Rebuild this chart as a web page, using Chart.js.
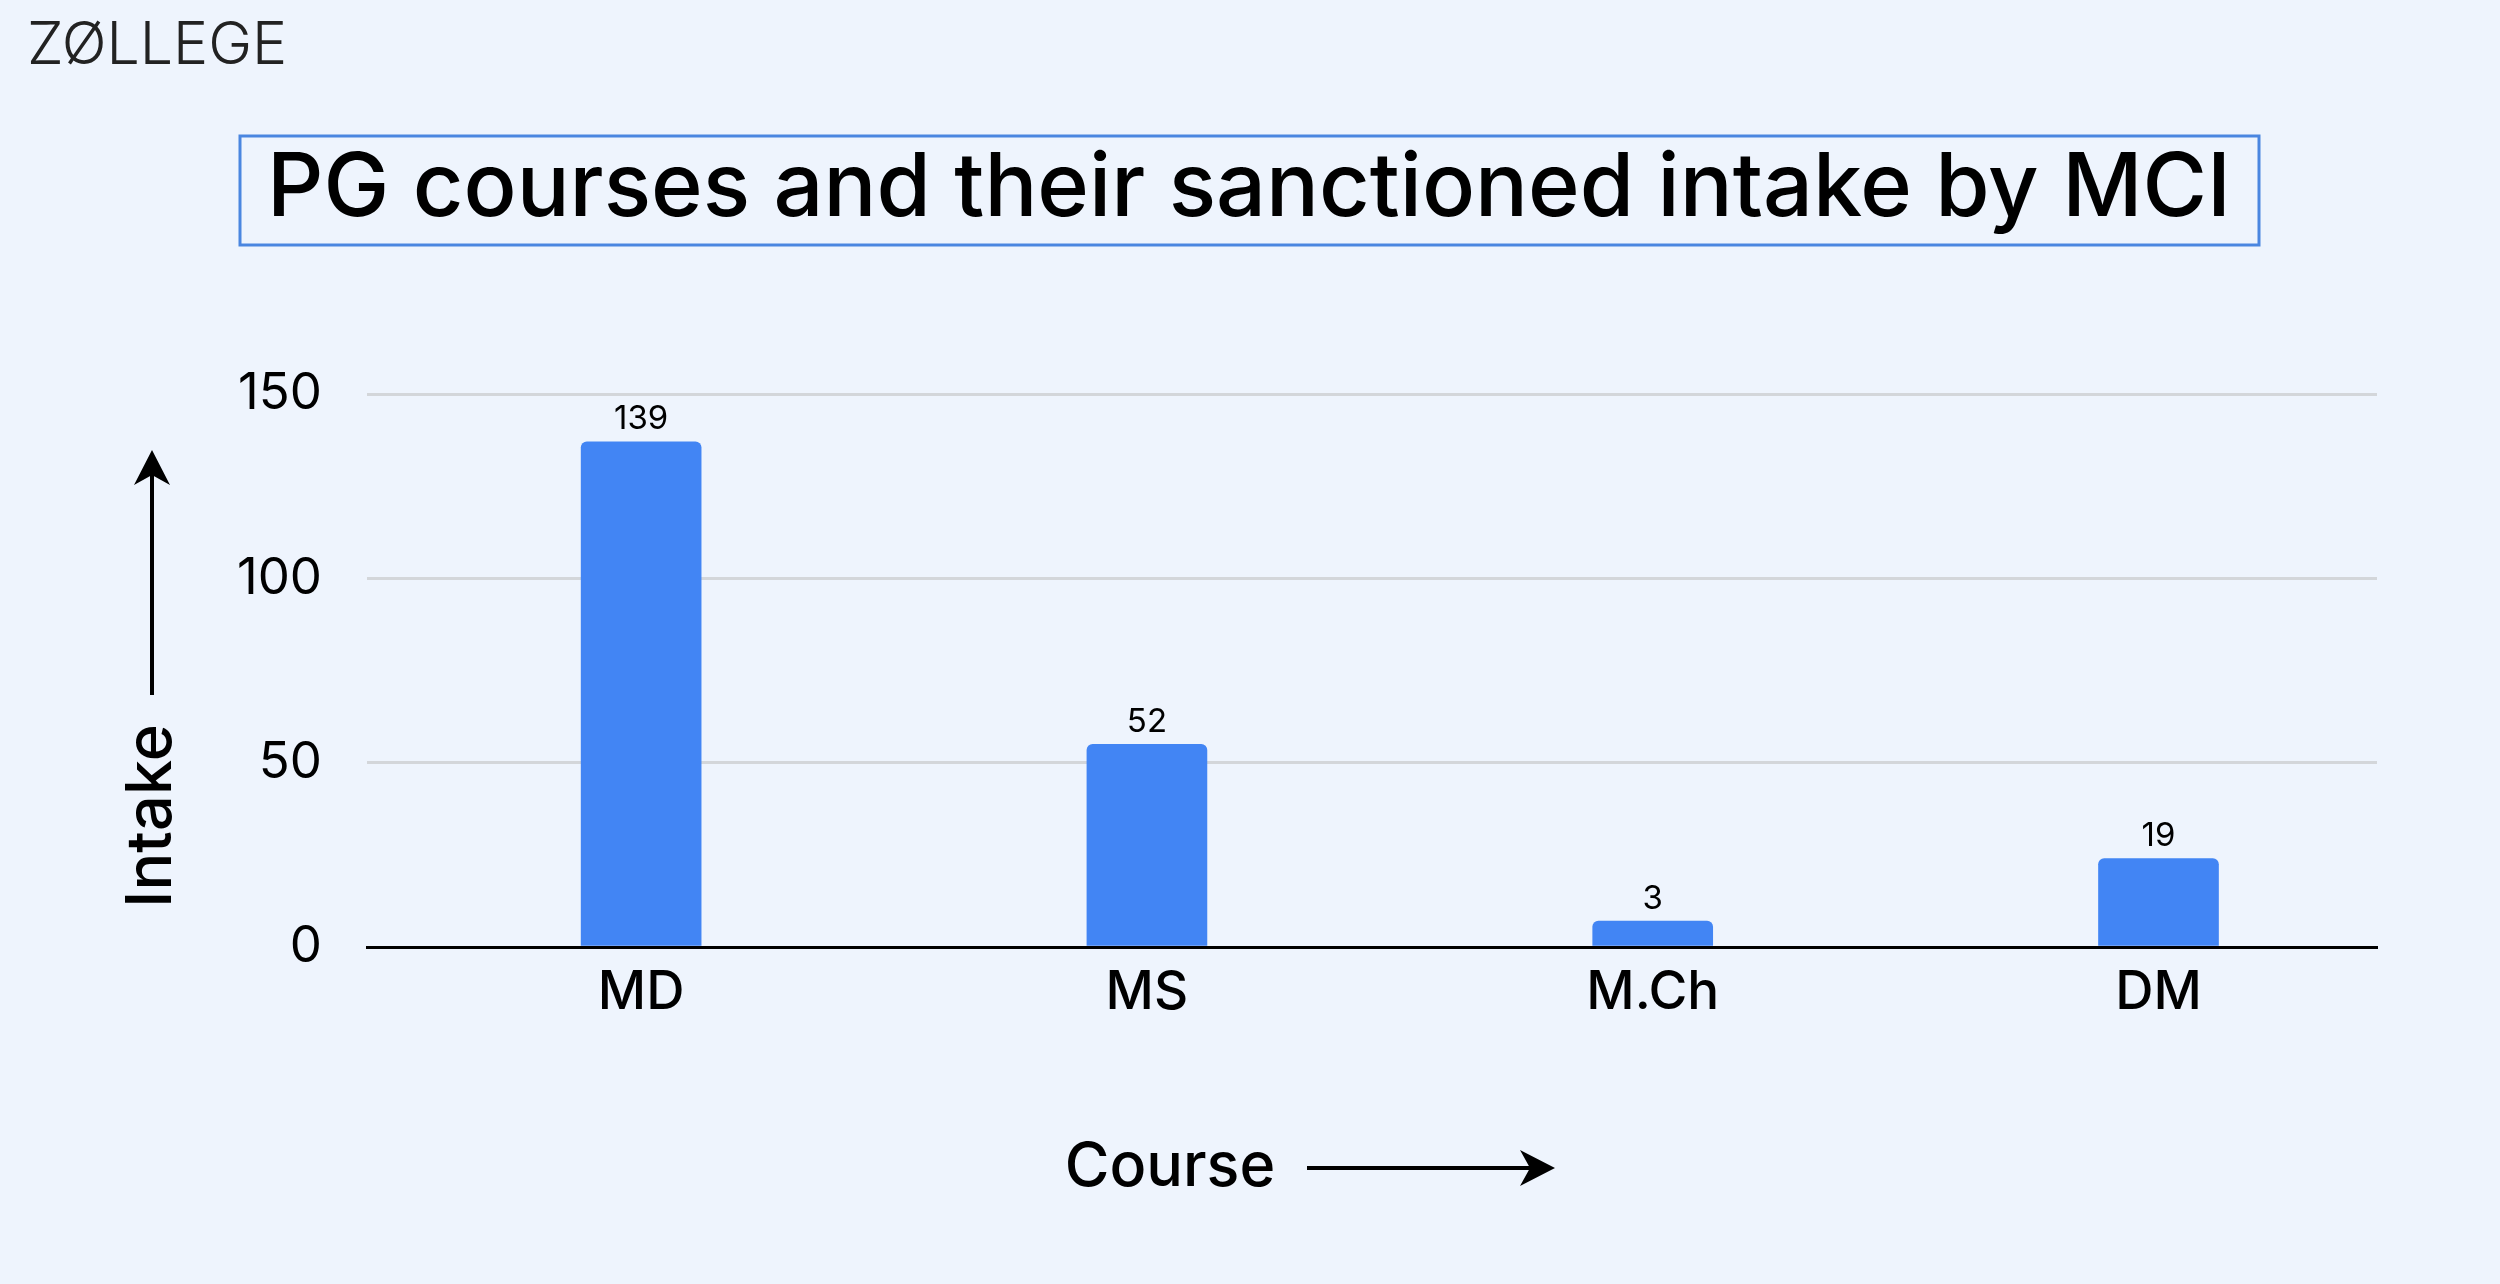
<!DOCTYPE html>
<html><head><meta charset="utf-8">
<script src="https://cdn.jsdelivr.net/npm/chart.js@4"></script>
<style>html,body{margin:0;padding:0;background:#eef4fd;}#c{display:block;}</style>
</head><body>
<canvas id="c" width="2500" height="1284"></canvas>
<script>
const categories = ["MD", "MS", "M.Ch", "DM"];
const barHeights = [137, 55, 7, 24];
const valueLabels = ["139", "52", "3", "19"];
const yTicks = [0, 50, 100, 150];
const FONT = "Inter, 'Open Sans', sans-serif";

const deco = {
  id: 'deco',
  beforeDraw(chart) {
    const c = chart.ctx;
    c.save();
    c.fillStyle = '#eef4fd';
    c.fillRect(0, 0, chart.width, chart.height);
    c.restore();
  },
  afterDraw(chart) {
    const c = chart.ctx;
    c.save();
    c.fillStyle = '#222';
    c.font = "300 59px " + FONT;
    c.textBaseline = 'middle';
    c.textAlign = 'left';
    c.fillText("Z\u00D8LLEGE", 27, 46);
    c.strokeStyle = '#4a86e0';
    c.lineWidth = 3;
    c.strokeRect(240, 136, 2019, 109);
    c.fillStyle = '#000';
    c.font = "500 88px " + FONT;
    c.textAlign = 'center';
    c.fillText("PG courses and their sanctioned intake by MCI", 1249, 190);
    c.font = "500 61px " + FONT;
    c.fillText("Course", 1170, 1168);
    c.save();
    c.translate(152, 816);
    c.rotate(-Math.PI / 2);
    c.font = "500 63px " + FONT;
    c.fillText("Intake", 0, 0);
    c.restore();
    c.strokeStyle = '#000'; c.lineWidth = 4;
    c.beginPath(); c.moveTo(1307, 1168); c.lineTo(1540, 1168); c.stroke();
    c.beginPath(); c.moveTo(1555, 1168); c.lineTo(1520, 1150); c.lineTo(1530, 1168); c.lineTo(1520, 1186); c.closePath(); c.fill();
    c.beginPath(); c.moveTo(152, 695); c.lineTo(152, 465); c.stroke();
    c.beginPath(); c.moveTo(152, 450); c.lineTo(134, 485); c.lineTo(152, 475); c.lineTo(170, 485); c.closePath(); c.fill();
    const meta = chart.getDatasetMeta(0);
    c.font = "400 33px " + FONT;
    c.textBaseline = 'bottom';
    meta.data.forEach((b, i) => c.fillText(valueLabels[i], b.x, b.y - 6));
    c.restore();
  }
};

new Chart(document.getElementById('c'), {
  type: 'bar',
  data: { datasets: [{ data: barHeights.map((v, i) => ({ x: i, y: v })), backgroundColor: '#4285f4',
    borderRadius: {topLeft: 6, topRight: 6}, borderSkipped: 'bottom', barThickness: 120 }] },
  options: {
    responsive: false, animation: false, devicePixelRatio: 1,
    layout: { padding: { top: 394, right: 123, left: 0, bottom: 0 } },
    plugins: { legend: { display: false }, tooltip: { enabled: false } },
    scales: {
      x: {
        type: 'linear', min: -0.542, max: 3.432, offset: false,
        afterFit(s) { s.height = 337; },
        afterBuildTicks(s) { s.ticks = categories.map((_, i) => ({ value: i })); },
        grid: { display: false, drawTicks: false },
        border: { color: '#000', width: 3 },
        ticks: { color: '#000', font: { family: FONT, size: 53, weight: 500 }, padding: 14,
          callback: v => categories[v] }
      },
      y: {
        min: 0, max: 150,
        afterFit(s) { s.width = 367; },
        afterBuildTicks(s) { s.ticks = yTicks.map(v => ({ value: v })); },
        grid: { color: '#d3d6da', lineWidth: 3, drawTicks: false },
        border: { display: false },
        ticks: { color: '#000', font: { family: FONT, size: 51 }, padding: 45 }
      }
    }
  },
  plugins: [deco]
});
</script>
</body></html>
